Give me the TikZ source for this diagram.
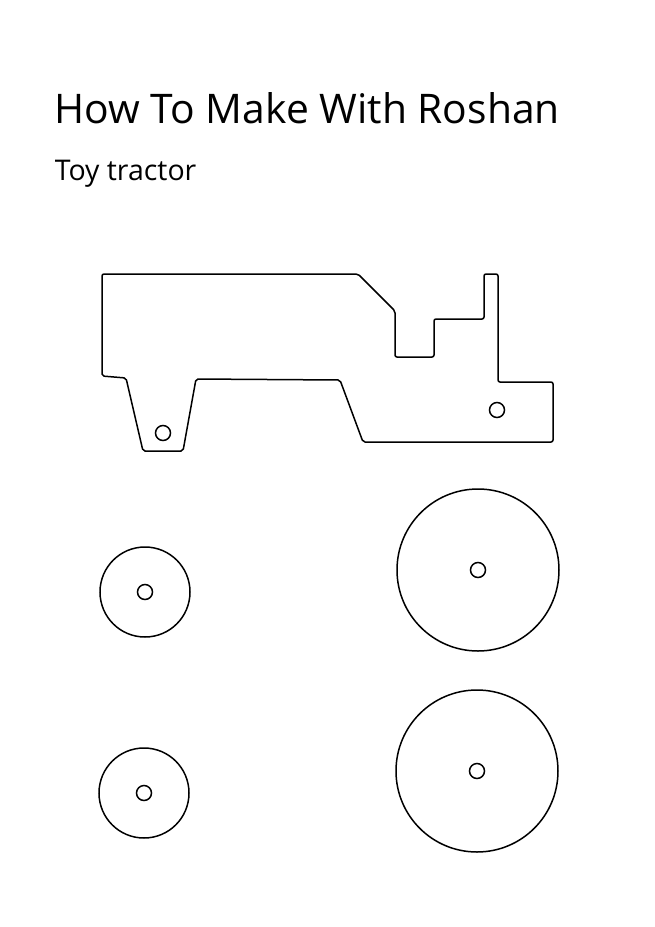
\documentclass[tikz,border=0pt]{standalone}
\usepackage{fontspec}
\setmainfont{Open Sans}
\begin{document}
\begin{tikzpicture}[x=1pt,y=-1pt,line width=1.5pt,
  part/.style={draw=black,rounded corners=2pt},
  hole/.style={draw=black}]
\useasboundingbox (0,0) rectangle (655,927);
\node[anchor=base west,inner sep=0,font=\fontsize{40.8}{44}\selectfont] (title) at (54,123) {How To Make With Roshan};
\node[anchor=base west,inner sep=0,font=\fontsize{28.5}{32}\selectfont] (sub) at (54,180) {Toy tractor};
\draw[part] (102,274) -- (358,274) -- (395,311) -- (395,357) -- (434,357) -- (434,319) -- (484,319) -- (484,274) -- (498,274) -- (498,382) -- (553,382) -- (553,442) -- (363,442) -- (340,380) -- (196,379) -- (183,451) -- (143,451) -- (126,378) -- (102,376) -- cycle;
\draw[hole] (163,433) circle (7.5);
\draw[hole] (497,410) circle (7.5);
\draw[hole] (145,592) circle (45); \draw[hole] (145,592) circle (7.5);
\draw[hole] (144,793) circle (45); \draw[hole] (144,793) circle (7.5);
\draw[hole] (478,570) circle (81); \draw[hole] (478,570) circle (7.5);
\draw[hole] (477,771) circle (81); \draw[hole] (477,771) circle (7.5);
\end{tikzpicture}
\end{document}
